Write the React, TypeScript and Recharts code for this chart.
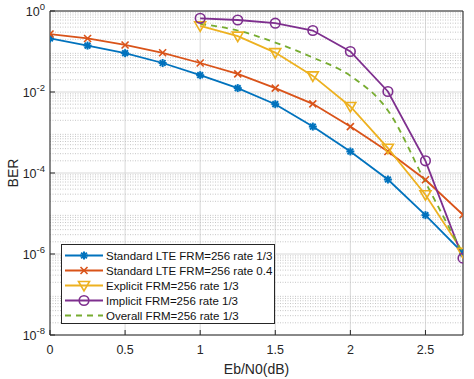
import React from 'react'
import { LineChart, Line, XAxis, YAxis, CartesianGrid, ReferenceLine } from 'recharts'

// Eb/N0 sweep (dB)
const snr = [0, 0.25, 0.5, 0.75, 1, 1.25, 1.5, 1.75, 2, 2.25, 2.5, 2.75]

// BER
const stdLte13 = [0.21, 0.14, 0.091, 0.052, 0.026, 0.0125, 0.005, 0.0014, 3.4e-4, 6.9e-5, 9.1e-6, 1.05e-6]
const stdLte04 = [0.27, 0.21, 0.145, 0.093, 0.052, 0.028, 0.0125, 0.0051, 0.0014, 3.4e-4, 6.8e-5, 9.3e-6]
// these three start at 1 dB
const explicitFrm = [0.43, 0.24, 0.094, 0.025, 0.0044, 4.1e-4, 2.9e-5, 1.1e-6]
const implicitFrm = [0.66, 0.6, 0.5, 0.33, 0.1, 0.0103, 2.0e-4, 7.9e-7]
const overallFrm = [0.48, 0.33, 0.166, 0.071, 0.025, 0.0035, 5.9e-5, 1.0e-6]

const xTicks = [0, 0.5, 1, 1.5, 2, 2.5]
const yTicks = [1e-8, 1e-6, 1e-4, 1e-2, 1]
const minorY: number[] = []
for (let e = -8; e < 0; e++) {
  for (let m = 2; m <= 9; m++) minorY.push(m * Math.pow(10, e))
}

const offset = snr.indexOf(1)
const data = snr.map((x, i) => ({
  x,
  std13: stdLte13[i],
  std04: stdLte04[i],
  exp: i >= offset ? explicitFrm[i - offset] : null,
  imp: i >= offset ? implicitFrm[i - offset] : null,
  ovr: i >= offset ? overallFrm[i - offset] : null,
}))

const BLUE = '#0072BD'
const ORANGE = '#D95319'
const YELLOW = '#EDB120'
const PURPLE = '#7E2F8E'
const GREEN = '#77AC30'
const AXIS = '#262626'
const FONT = '"Liberation Sans", Arial, sans-serif'

type MarkerKind = 'star' | 'x' | 'tri' | 'circle' | 'none'

function Marker({ kind, cx, cy, color }: { kind: MarkerKind; cx: number; cy: number; color: string }) {
  if (kind === 'star') {
    const r = 4
    const d = r * 0.72
    return (
      <g stroke={color} strokeWidth={2}>
        <line x1={cx - r} y1={cy} x2={cx + r} y2={cy} />
        <line x1={cx} y1={cy - r} x2={cx} y2={cy + r} />
        <line x1={cx - d} y1={cy - d} x2={cx + d} y2={cy + d} />
        <line x1={cx - d} y1={cy + d} x2={cx + d} y2={cy - d} />
      </g>
    )
  }
  if (kind === 'x') {
    const r = 3.5
    return (
      <g stroke={color} strokeWidth={1.6}>
        <line x1={cx - r} y1={cy - r} x2={cx + r} y2={cy + r} />
        <line x1={cx - r} y1={cy + r} x2={cx + r} y2={cy - r} />
      </g>
    )
  }
  if (kind === 'tri') {
    return (
      <polygon
        points={`${cx - 5.5},${cy - 4} ${cx + 5.5},${cy - 4} ${cx},${cy + 5.5}`}
        fill="none"
        stroke={color}
        strokeWidth={1.6}
      />
    )
  }
  if (kind === 'circle') {
    return <circle cx={cx} cy={cy} r={4.8} fill="none" stroke={color} strokeWidth={1.6} />
  }
  return null
}

const dotFor = (kind: MarkerKind, color: string) => (props: any) => {
  const { cx, cy, index, value } = props
  if (value == null || cx == null || cy == null || isNaN(cy)) return <g key={index} />
  return (
    <g key={index}>
      <Marker kind={kind} cx={cx} cy={cy} color={color} />
    </g>
  )
}

const YTick = (props: any) => {
  const { x, y, payload } = props
  const exp = Math.round(Math.log10(payload.value))
  return (
    <g>
      <line x1={x + 4} y1={y} x2={x + 9} y2={y} stroke={AXIS} strokeWidth={1} />
      <text x={x - 1} y={y + 5} textAnchor="end" fontSize={12.5} fill={AXIS} fontFamily={FONT}>
        <tspan>10</tspan>
        <tspan dy={-6} fontSize={9.5}>{exp}</tspan>
      </text>
    </g>
  )
}

const XTick = (props: any) => {
  const { x, y, payload } = props
  return (
    <g>
      <line x1={x} y1={y - 8} x2={x} y2={y - 13} stroke={AXIS} strokeWidth={1} />
      <text x={x} y={y + 11} textAnchor="middle" fontSize={12.5} fill={AXIS} fontFamily={FONT}>
        {payload.value}
      </text>
    </g>
  )
}

const BerLabel = (props: any) => {
  const { viewBox } = props
  const cx = viewBox.x + 13
  const cy = viewBox.y + viewBox.height / 2
  return (
    <text x={cx} y={cy} transform={`rotate(-90 ${cx} ${cy})`} textAnchor="middle" dominantBaseline="central" fontSize={14} fill={AXIS} fontFamily={FONT}>
      BER
    </text>
  )
}

const legendItems: { name: string; color: string; kind: MarkerKind; dashed?: boolean }[] = [
  { name: 'Standard LTE FRM=256 rate 1/3', color: BLUE, kind: 'star' },
  { name: 'Standard LTE FRM=256 rate 0.4', color: ORANGE, kind: 'x' },
  { name: 'Explicit FRM=256 rate 1/3', color: YELLOW, kind: 'tri' },
  { name: 'Implicit FRM=256 rate 1/3', color: PURPLE, kind: 'circle' },
  { name: 'Overall FRM=256 rate 1/3', color: GREEN, kind: 'none', dashed: true },
]

function BerLegend() {
  return (
    <div
      style={{
        position: 'absolute',
        left: 61,
        top: 244,
        width: 214,
        height: 80,
        border: `1px solid ${AXIS}`,
        background: '#fff',
        paddingTop: 3,
        boxSizing: 'border-box',
      }}
    >
      {legendItems.map((it) => (
        <div key={it.name} style={{ display: 'flex', alignItems: 'center', height: 15 }}>
          <svg width={44} height={15} style={{ flex: 'none' }}>
            <line
              x1={3}
              y1={7.5}
              x2={41}
              y2={7.5}
              stroke={it.color}
              strokeWidth={1.8}
              strokeDasharray={it.dashed ? '6 5' : undefined}
            />
            <Marker kind={it.kind} cx={22} cy={7.5} color={it.color} />
          </svg>
          <span style={{ fontFamily: FONT, fontSize: 11.5, color: '#111', whiteSpace: 'nowrap' }}>{it.name}</span>
        </div>
      ))}
    </div>
  )
}

export default function App() {
  return (
    <div style={{ position: 'absolute', left: 0, top: 0, width: 474, height: 379, background: '#fff' }}>
      <LineChart width={474} height={379} data={data} margin={{ top: 11, right: 11, bottom: 0, left: 0 }}>
        <CartesianGrid stroke="#d8d8d8" strokeWidth={1} />
        {minorY.map((v) => (
          <ReferenceLine key={v} y={v} stroke="#c6c6c6" strokeWidth={1} strokeDasharray="1 1.5" />
        ))}
        <XAxis
          dataKey="x"
          type="number"
          domain={[0, 2.75]}
          ticks={xTicks}
          allowDataOverflow
          height={44}
          tickLine={false}
          tickSize={0}
          tickMargin={8}
          axisLine={{ stroke: AXIS, strokeWidth: 1 }}
          tick={<XTick />}
          label={{ value: 'Eb/N0(dB)', position: 'insideBottom', offset: 5, fontSize: 14, fill: AXIS, fontFamily: FONT }}
        />
        <YAxis
          type="number"
          scale="log"
          domain={[1e-8, 1]}
          ticks={yTicks}
          allowDataOverflow
          width={50}
          tickLine={false}
          tickSize={0}
          tickMargin={4}
          axisLine={{ stroke: AXIS, strokeWidth: 1 }}
          tick={<YTick />}
          label={<BerLabel />}
        />
        <ReferenceLine y={1} stroke={AXIS} strokeWidth={1} />
        <ReferenceLine x={2.75} stroke={AXIS} strokeWidth={1} />
        <Line dataKey="std13" stroke={BLUE} strokeWidth={1.8} dot={dotFor('star', BLUE)} isAnimationActive={false} />
        <Line dataKey="std04" stroke={ORANGE} strokeWidth={1.8} dot={dotFor('x', ORANGE)} isAnimationActive={false} />
        <Line dataKey="exp" stroke={YELLOW} strokeWidth={1.8} dot={dotFor('tri', YELLOW)} isAnimationActive={false} />
        <Line dataKey="imp" stroke={PURPLE} strokeWidth={1.8} dot={dotFor('circle', PURPLE)} isAnimationActive={false} />
        <Line
          dataKey="ovr"
          type="monotone"
          stroke={GREEN}
          strokeWidth={1.8}
          strokeDasharray="6 5"
          dot={false}
          isAnimationActive={false}
        />
      </LineChart>
      <BerLegend />
    </div>
  )
}
